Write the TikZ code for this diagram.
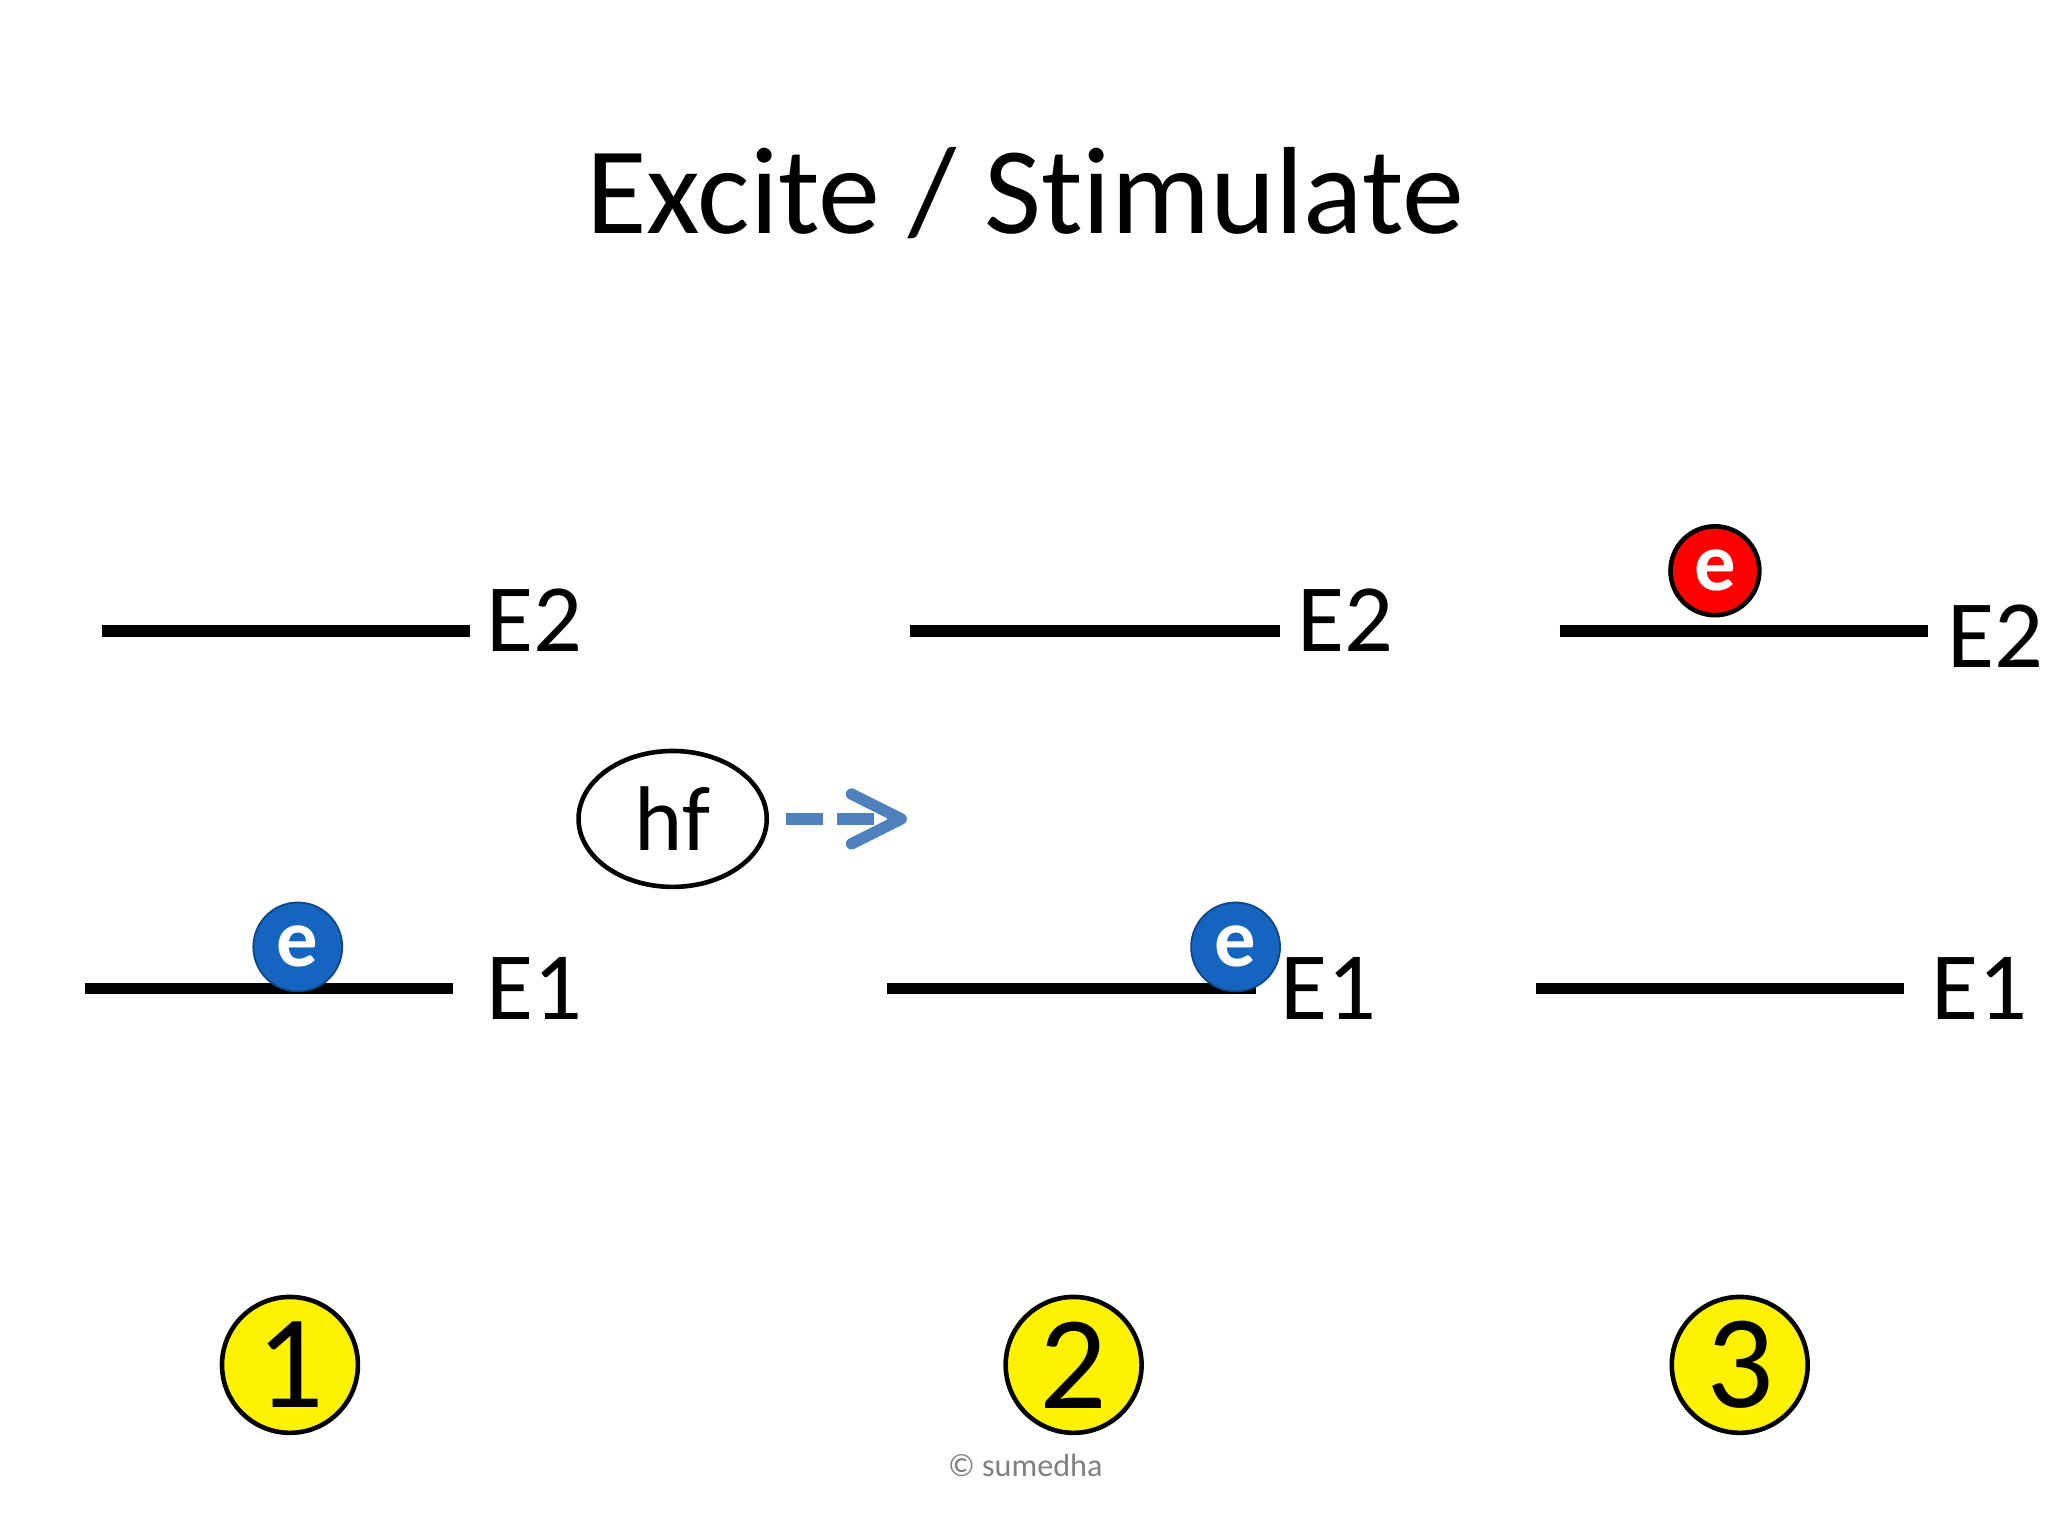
\documentclass[tikz,border=0pt]{standalone}
\usepackage{fontspec}
\setmainfont[Ligatures=NoCommon]{Carlito}
\usetikzlibrary{shapes.geometric}
\definecolor{eblue}{HTML}{1565C0}
\definecolor{ared}{HTML}{FF0000}
\definecolor{arr}{HTML}{4F81BD}
\begin{document}
\begin{tikzpicture}[x=0.01cm,y=-0.01cm,
  lvl/.style={line width=2.5pt,black},
  lab/.style={anchor=west,font=\fontsize{21}{21}\selectfont,inner sep=0},
  el/.style={circle,minimum size=0.68cm,inner sep=0,text=white,font=\fontsize{18}{18}\selectfont\bfseries},
  num/.style={circle,draw=black,line width=1pt,fill=yellow,minimum size=1.04cm,inner sep=0,font=\fontsize{29}{29}\selectfont}]
\useasboundingbox (0,0) rectangle (1568,1176);
\node[font=\fontsize{27}{27}\selectfont] (title) at (785,148) {Excite / Stimulate};
% panel 1
\coordinate (a1) at (78,483); \coordinate (a2) at (360,483);
\draw[lvl] (a1) -- (a2);
\node[lab] (l1) at (372,475) {E2};
\coordinate (b1) at (65,757); \coordinate (b2) at (347,757);
\draw[lvl] (b1) -- (b2);
\node[lab] (l2) at (372,757) {E1};
\node[el,fill=eblue,draw=eblue!70!black] (e1) at (228,725) {e};
% panel 2
\coordinate (c1) at (697,483); \coordinate (c2) at (980,483);
\draw[lvl] (c1) -- (c2);
\node[lab] (l3) at (993,475) {E2};
\coordinate (d1) at (679,757); \coordinate (d2) at (962,757);
\draw[lvl] (d1) -- (d2);
\node[el,fill=eblue,draw=eblue!70!black] (e2) at (946,725) {e};
\node[lab] (l4) at (980,757) {E1};
% panel 3
\coordinate (f1) at (1194,483); \coordinate (f2) at (1476,483);
\draw[lvl] (f1) -- (f2);
\node[lab] (l5) at (1490,487) {E2};
\coordinate (g1) at (1176,757); \coordinate (g2) at (1458,757);
\draw[lvl] (g1) -- (g2);
\node[lab] (l6) at (1478,757) {E1};
\node[el,fill=ared,draw=black,line width=1pt] (e3) at (1313,437) {e};
% photon
\node[ellipse,draw=black,line width=1pt,minimum width=1.44cm,minimum height=1.04cm,inner sep=0,font=\fontsize{20}{20}\selectfont] (hf) at (515,627) {hf};
\coordinate (ps) at (602,627);
\coordinate (pe) at (690,627);
\draw[arr,line width=2.5pt,dash pattern=on 8pt off 3pt] (ps) -- ([xshift=-0.06cm]pe);
\draw[arr,line width=2.5pt,line cap=round,line join=round] (652,608) -- (pe) -- (652,646);
% numbers
\node[num] (n1) at (222,1045) {1};
\node[num] (n2) at (822,1045) {2};
\node[num] (n3) at (1332,1045) {3};
\node[text=gray,font=\fontsize{7}{7}\selectfont] (c) at (785,1122) {© sumedha};
\end{tikzpicture}
\end{document}
